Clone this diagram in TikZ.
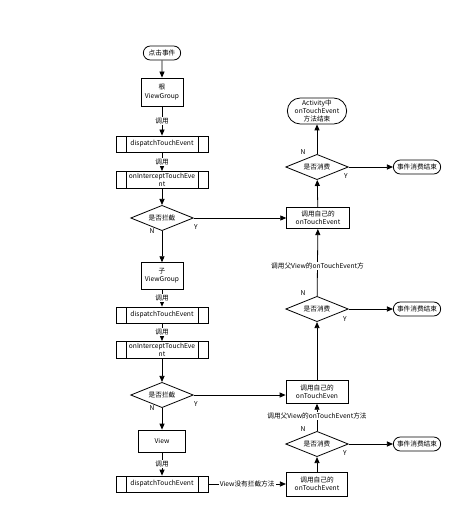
\documentclass[tikz,border=0pt]{standalone}
\usepackage{fontspec}
\setmainfont{Noto Sans CJK SC}
\usetikzlibrary{arrows.meta}
\usetikzlibrary{shapes.geometric}
\usetikzlibrary{shapes.misc}
\begin{document}
\begin{tikzpicture}[x=0.75pt,y=0.75pt,yscale=-1,xscale=1,
  font=\fontsize{5}{6.2}\selectfont,
  every node/.style={align=center,inner sep=1pt},
  flow/.style={draw,line width=0.6pt,rectangle},
  termbox/.style={draw,line width=0.6pt,rounded rectangle,minimum width=30pt,minimum height=10.5pt},
  procbox/.style={draw,line width=0.6pt,rectangle,minimum width=69pt,minimum height=12pt,
    path picture={\draw ([xshift=7.5pt]path picture bounding box.north west) -- ([xshift=7.5pt]path picture bounding box.south west);
      \draw ([xshift=-7.5pt]path picture bounding box.north east) -- ([xshift=-7.5pt]path picture bounding box.south east);}},
  decide/.style={draw,line width=0.6pt,diamond,aspect=2.5,minimum width=47pt,minimum height=19pt,inner sep=0pt},
  arr/.style={draw,line width=0.6pt,-{Triangle[length=4.5pt,width=3.8pt]}},
  onlbl/.style={fill=white,inner sep=0.8pt}]
\useasboundingbox (0,0) rectangle (474,527);

%Left column
\node [termbox] (start) at (162,53) {点击事件};
\node [flow,minimum width=31.5pt,minimum height=21pt] (root) at (162,92) {根\\ViewGroup};
\node [procbox] (dispA) at (162,144) {dispatchTouchEvent};
\node [procbox,minimum height=13pt] (interA) at (162,180) {onInterceptTouchEve\\nt};
\node [decide] (decA) at (162,218) {是否拦截};
\node [flow,minimum width=31.5pt,minimum height=20pt] (child) at (162,276) {子\\ViewGroup};
\node [procbox] (dispB) at (162,315) {dispatchTouchEvent};
\node [procbox,minimum height=13pt] (interB) at (162,350) {onInterceptTouchEve\\nt};
\node [decide] (decB) at (162,395) {是否拦截};
\node [flow,minimum width=35pt,minimum height=16.5pt] (view) at (162,441) {View};
\node [procbox] (dispC) at (162,484) {dispatchTouchEvent};

%Right column
\node [termbox,minimum width=46.5pt,minimum height=19.5pt] (actEnd) at (317,111) {Activity中\\onTouchEvent\\方法结束};
\node [decide] (useA) at (317,167) {是否消费};
\node [termbox,minimum width=37.5pt] (endA) at (417,167) {事件消费结束};
\node [flow,minimum width=47pt,minimum height=16pt] (selfA) at (318,218) {调用自己的\\onTouchEvent};
\node [decide] (useB) at (317,309) {是否消费};
\node [termbox,minimum width=37.5pt] (endB) at (417,309) {事件消费结束};
\node [flow,minimum width=46.5pt,minimum height=17pt] (selfB) at (317,392) {调用自己的\\onTouchEven};
\node [decide] (useC) at (317,444) {是否消费};
\node [termbox,minimum width=37.5pt] (endC) at (417,444) {事件消费结束};
\node [flow,minimum width=46pt,minimum height=18pt] (selfC) at (317,484) {调用自己的\\onTouchEvent};

%Connectors, left column
\draw [arr] (start) -- (root);
\draw [arr] (root) -- node [onlbl] {调用} (dispA);
\draw [arr] (dispA) -- node [onlbl] {调用} (interA);
\draw [arr] (interA) -- (decA);
\draw [arr] (decA) -- (child);
\draw [arr] (decA.east) -- (selfA.west);
\draw [arr] (child) -- node [onlbl] {调用} (dispB);
\draw [arr] (dispB) -- node [onlbl] {调用} (interB);
\draw [arr] (interB) -- (decB);
\draw [arr] (decB) -- (view);
\draw [arr] (decB.east) -- (decB.east -| selfB.west);
\draw [arr] (view) -- node [onlbl] {调用} (dispC);
\draw [arr] (dispC) -- node [onlbl] {View没有拦截方法} (selfC);

%Connectors, right column
\draw [arr] (selfC) -- (useC);
\draw [arr] (useC) -- node [onlbl,pos=0.55] {调用父View的onTouchEvent方法} (selfB);
\draw [arr] (useC) -- (endC);
\draw [arr] (selfB) -- (useB);
\draw [arr] (useB) -- node [onlbl,pos=0.45] {调用父View的onTouchEvent方} (selfA);
\draw [arr] (useB) -- (endB);
\draw [arr] (selfA) -- (useA);
\draw [arr] (useA) -- (actEnd);
\draw [arr] (useA) -- (endA);

% Text Node
\node (nA) at (152,231) {N};
\node (yA) at (196,227) {Y};
\node (nB) at (152,408) {N};
\node (yB) at (196,404) {Y};
\node (nC) at (303,152) {N};
\node (yC) at (346,176) {Y};
\node (nD) at (303,293) {N};
\node (yD) at (345,319) {Y};
\node (nE) at (303,429) {N};
\node (yE) at (345,453) {Y};

\end{tikzpicture}
\end{document}
